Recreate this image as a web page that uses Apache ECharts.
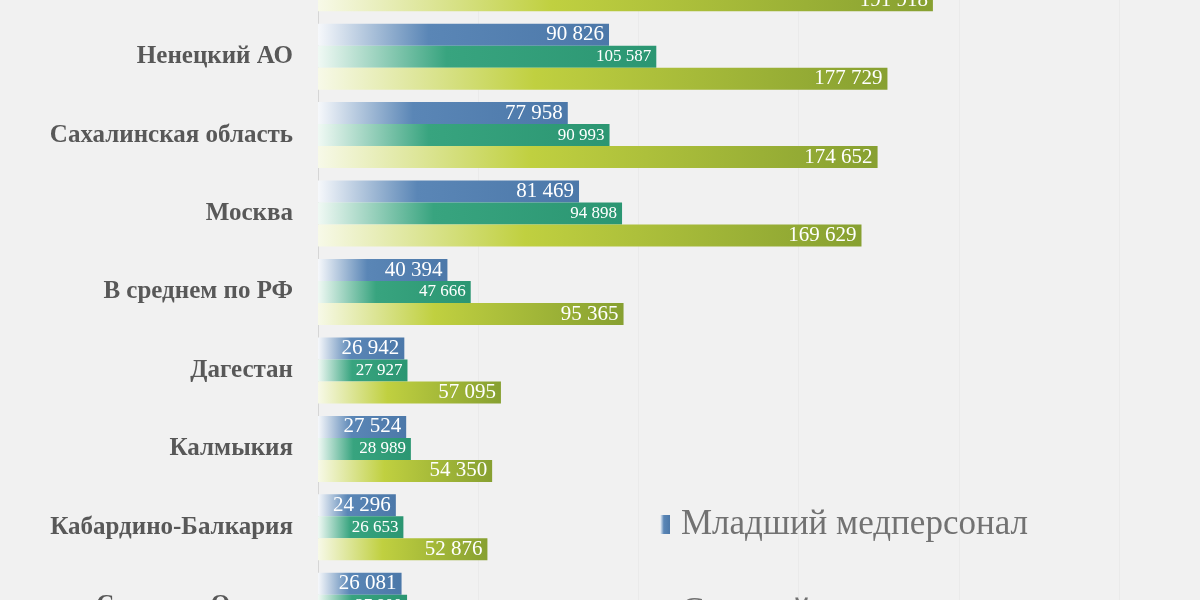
<!doctype html>
<html>
<head>
<meta charset="UTF-8">
<title>Зарплаты медперсонала</title>
<script src="https://cdn.jsdelivr.net/npm/echarts@6/dist/echarts.min.js"></script>
<style>
	html, body { margin: 0; padding: 0; width: 1200px; height: 600px; overflow: hidden; background: #f1f1f1; }
	#chart { position: absolute; left: 0; top: -100px; width: 1200px; height: 1000px; }
</style>
</head>
<body>
<div id="chart"></div>
<script>
	// регионы сверху вниз (верхний и нижний обрезаны кадром)
	var regions = ['Чукотский АО', 'Ненецкий АО', 'Сахалинская область', 'Москва', 'В среднем по РФ', 'Дагестан', 'Калмыкия', 'Кабардино-Балкария', 'Северная Осетия'];
	var seriesNames = ['Младший медперсонал', 'Средний медперсонал', 'Врачи'];
	var junior = [96000, 90826, 77958, 81469, 40394, 26942, 27524, 24296, 26081];
	var middle = [112000, 105587, 90993, 94898, 47666, 27927, 28989, 26653, 27800];
	var doctors = [191918, 177729, 174652, 169629, 95365, 57095, 54350, 52876, 54000];

	var serif = '"Liberation Serif", "DejaVu Serif", serif';

	function fmt(v) {
		return String(v).replace(/\B(?=(\d{3})+(?!\d))/g, ' ');
	}

	function grad(light, mid, dark) {
		return {
			type: 'linear', x: 0, y: 0, x2: 1, y2: 0,
			colorStops: [
				{ offset: 0, color: light },
				{ offset: 0.38, color: mid },
				{ offset: 1, color: dark }
			]
		};
	}

	var colors = [
		grad('#f6f8fb', '#5a86b6', '#4c78a9'),
		grad('#f0f9f4', '#38a47f', '#2b9672'),
		grad('#f7f9e8', '#c0d040', '#87a031')
	];
	var labelSize = [21, 17, 21];
	var data = [junior, middle, doctors];

	var series = [];
	for (var i = 0; i < data.length; i++) {
		series.push({
			name: seriesNames[i],
			type: 'bar',
			data: data[i],
			barWidth: 22,
			barGap: '0%',
			itemStyle: { color: colors[i] },
			label: {
				show: true,
				position: 'insideRight',
				distance: 5,
				color: '#ffffff',
				fontFamily: serif,
				fontSize: labelSize[i],
				formatter: function(p) { return fmt(p.value); }
			}
		});
	}

	var option = {
		backgroundColor: '#f1f1f1',
		animation: false,
		legend: {
			orient: 'vertical',
			left: 655,
			top: 602,
			itemGap: 53,
			icon: 'rect',
			itemWidth: 10,
			itemHeight: 19,
			data: seriesNames,
			textStyle: {
				fontFamily: serif,
				fontSize: 35,
				lineHeight: 35,
				color: '#727272',
				padding: [0, 0, 0, 6]
			}
		},
		grid: { left: 318, top: 39, height: 706, right: 81 },
		xAxis: {
			type: 'value',
			min: 0,
			max: 250000,
			interval: 50000,
			axisLabel: { show: false },
			axisLine: { show: false },
			axisTick: { show: false },
			splitLine: { lineStyle: { color: '#eaeaea', width: 1 } }
		},
		yAxis: {
			type: 'category',
			inverse: true,
			data: regions,
			axisTick: { show: false },
			axisLine: { show: true, lineStyle: { color: '#d6d6d6', width: 1 } },
			axisLabel: {
				margin: 25,
				fontFamily: serif,
				fontWeight: 'bold',
				fontSize: 25,
				color: '#585858'
			}
		},
		series: series
	};

	var chart = echarts.init(document.getElementById('chart'));
	chart.setOption(option);
</script>
</body>
</html>
